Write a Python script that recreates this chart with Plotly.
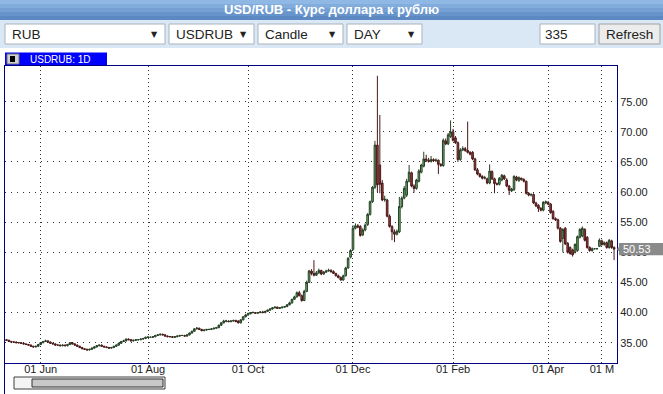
import plotly.graph_objects as go
import pandas as pd

# ---------------- data ----------------
open_ = [
    35.5, 35.4, 35.2, 35.1, 35.1, 35.0, 35.0, 34.9, 34.8, 34.7,
    34.6, 34.4, 34.3, 34.4, 34.7, 35.0, 35.2, 35.3, 35.1, 34.9,
    34.8, 34.6, 34.6, 34.5, 34.6, 34.5, 34.7, 35.0, 34.8, 34.6,
    34.4, 34.2, 34.0, 33.9, 33.8, 33.9, 34.1, 34.3, 34.5, 34.6,
    34.4, 34.3, 34.2, 34.1, 34.2, 34.4, 34.6, 34.9, 35.2, 35.3,
    35.6, 35.5, 35.3, 35.4, 35.5, 35.5, 35.6, 35.7, 35.9, 35.9,
    35.9, 36.0, 36.2, 36.3, 36.4, 36.3, 36.1, 36.0, 36.0, 35.9,
    36.0, 36.1, 36.2, 36.2, 36.1, 36.3, 36.6, 36.9, 37.3, 37.4,
    37.2, 37.0, 37.1, 37.2, 37.2, 37.3, 37.4, 37.5, 37.9, 38.3,
    38.6, 38.6, 38.5, 38.6, 38.7, 38.6, 38.3, 38.8, 39.3, 39.6,
    39.8, 40.0, 40.0, 39.9, 40.0, 40.1, 40.0, 40.2, 40.4, 40.6,
    40.8, 40.9, 40.7, 40.8, 40.9, 41.0, 41.3, 41.6, 42.2, 42.6,
    43.3, 42.8, 42.0, 43.5, 45.0, 46.9, 46.5, 46.2, 46.6, 47.0,
    46.4, 46.7, 46.9, 47.0, 46.8, 46.5, 46.1, 45.8, 45.4, 46.1,
    47.4, 49.2, 50.5, 54.0, 54.4, 54.3, 52.9, 53.7, 54.6, 56.3,
    58.4, 60.8, 67.8, 64.5, 61.5, 58.7, 58.7, 56.0, 54.3, 53.4,
    53.0, 53.4, 57.6, 59.0, 59.5, 61.8, 63.2, 61.0, 60.6, 61.8,
    63.3, 64.3, 65.5, 65.3, 65.1, 65.4, 65.2, 65.3, 64.6, 64.4,
    68.5, 68.0, 69.2, 70.0, 69.0, 68.2, 65.4, 67.0, 67.2, 66.9,
    66.6, 66.6, 65.5, 63.7, 63.0, 62.6, 62.3, 62.2, 61.5, 63.4,
    62.2, 61.4, 61.3, 62.0, 62.7, 62.0, 61.0, 60.2, 60.4, 62.5,
    61.9, 62.3, 62.1, 61.8, 59.8, 59.5, 59.6, 58.2, 57.8, 57.3,
    57.0, 58.2, 58.3, 58.0, 56.8, 55.6, 55.4, 54.0, 52.3, 54.0,
    51.5, 50.8, 50.4, 50.0, 50.3, 52.5, 52.7, 53.8, 52.5, 50.8,
    50.3, 50.6, 50.6, 51.0, 51.9, 51.3, 51.6, 50.8, 51.9, 50.8,
]
high = [
    35.6, 35.5, 35.3, 35.2, 35.2, 35.1, 35.1, 35.0, 34.9, 34.8,
    34.7, 34.5, 34.5, 34.8, 35.1, 35.3, 35.5, 35.4, 35.2, 35.0,
    34.9, 34.7, 34.7, 34.7, 34.7, 34.8, 35.1, 35.1, 34.9, 34.7,
    34.5, 34.3, 34.1, 34.0, 34.0, 34.2, 34.4, 34.6, 34.7, 34.7,
    34.5, 34.4, 34.3, 34.3, 34.5, 34.7, 35.0, 35.3, 35.5, 35.7,
    35.7, 35.6, 35.5, 35.6, 35.6, 35.7, 35.8, 36.0, 36.1, 36.0,
    36.1, 36.3, 36.4, 36.5, 36.5, 36.4, 36.2, 36.1, 36.1, 36.1,
    36.2, 36.3, 36.3, 36.3, 36.4, 36.7, 37.0, 37.4, 37.6, 37.5,
    37.3, 37.2, 37.3, 37.3, 37.4, 37.5, 37.6, 38.0, 38.4, 38.8,
    38.8, 38.7, 38.7, 38.8, 38.8, 38.7, 38.9, 39.4, 39.8, 40.0,
    40.1, 40.2, 40.1, 40.1, 40.2, 40.3, 40.3, 40.5, 40.7, 40.9,
    41.0, 41.0, 40.9, 41.0, 41.1, 41.4, 41.8, 42.3, 42.8, 43.5,
    43.6, 43.0, 43.8, 45.3, 47.1, 47.2, 48.7, 46.9, 47.3, 47.1,
    46.9, 47.1, 47.3, 47.2, 47.0, 46.6, 46.3, 46.0, 46.3, 47.6,
    49.2, 50.5, 54.5, 54.8, 54.7, 54.5, 54.0, 54.8, 56.5, 58.6,
    61.0, 68.5, 79.3, 72.8, 62.0, 59.4, 58.9, 56.3, 54.5, 53.8,
    53.8, 59.2, 59.3, 61.0, 62.2, 64.5, 63.4, 61.3, 62.2, 63.8,
    64.7, 66.7, 66.2, 65.7, 66.0, 65.6, 65.6, 65.4, 64.8, 68.9,
    68.9, 69.8, 71.9, 70.5, 69.3, 68.4, 67.3, 67.6, 67.5, 71.7,
    66.8, 66.8, 65.7, 64.0, 63.2, 62.8, 62.7, 62.4, 64.6, 63.6,
    62.4, 61.6, 62.5, 63.0, 62.9, 62.3, 61.2, 60.7, 62.8, 62.7,
    62.6, 62.4, 62.3, 61.9, 60.0, 59.8, 59.8, 58.4, 58.0, 57.5,
    58.5, 58.6, 58.5, 58.2, 57.0, 55.8, 55.6, 54.2, 54.0, 54.2,
    51.7, 51.0, 50.6, 51.5, 52.8, 54.0, 54.3, 54.0, 52.7, 51.0,
    50.8, 50.7, 50.7, 52.3, 52.1, 51.8, 51.8, 52.2, 52.1, 51.0,
]
low = [
    35.3, 35.1, 35.0, 35.0, 34.9, 34.9, 34.8, 34.7, 34.6, 34.5,
    34.3, 34.2, 34.2, 34.3, 34.6, 34.9, 35.1, 35.0, 34.8, 34.7,
    34.5, 34.5, 34.4, 34.4, 34.4, 34.4, 34.6, 34.7, 34.5, 34.3,
    34.1, 33.9, 33.8, 33.7, 33.7, 33.8, 34.0, 34.2, 34.4, 34.3,
    34.2, 34.1, 34.0, 34.0, 34.1, 34.3, 34.5, 34.8, 35.1, 35.2,
    35.4, 35.2, 35.2, 35.3, 35.4, 35.4, 35.5, 35.6, 35.8, 35.8,
    35.8, 35.9, 36.1, 36.2, 36.2, 36.0, 35.9, 35.9, 35.8, 35.8,
    35.9, 36.0, 36.1, 36.0, 36.0, 36.2, 36.5, 36.8, 37.2, 37.1,
    36.9, 36.9, 37.0, 37.1, 37.1, 37.2, 37.3, 37.4, 37.8, 38.2,
    38.4, 38.4, 38.4, 38.5, 38.4, 38.2, 38.2, 38.7, 39.2, 39.5,
    39.7, 39.9, 39.8, 39.8, 39.9, 39.9, 39.9, 40.1, 40.3, 40.5,
    40.7, 40.6, 40.6, 40.7, 40.8, 40.9, 41.2, 41.5, 42.1, 42.5,
    42.7, 41.8, 41.9, 43.4, 44.9, 46.2, 46.0, 46.1, 46.4, 46.2,
    46.3, 46.6, 46.8, 46.6, 46.4, 46.0, 45.7, 45.3, 45.3, 46.0,
    47.3, 49.0, 50.3, 53.8, 54.0, 52.6, 52.7, 53.5, 54.4, 56.1,
    58.2, 60.5, 60.0, 59.8, 58.5, 58.4, 55.8, 54.1, 52.0, 51.7,
    52.8, 53.2, 57.3, 58.8, 59.2, 61.6, 60.8, 59.9, 60.4, 61.6,
    63.1, 64.1, 65.0, 64.9, 64.9, 65.0, 65.0, 63.0, 64.2, 64.2,
    67.8, 67.8, 69.0, 68.4, 68.0, 65.0, 65.2, 66.8, 66.7, 66.4,
    66.1, 65.3, 63.5, 62.8, 62.4, 62.1, 62.1, 61.3, 61.3, 62.0,
    59.8, 61.1, 61.1, 61.8, 62.0, 60.8, 59.5, 60.0, 60.2, 61.8,
    61.7, 61.9, 61.6, 59.6, 59.3, 59.3, 58.0, 57.5, 56.7, 56.8,
    56.8, 58.0, 57.8, 56.4, 55.4, 55.2, 53.8, 51.6, 50.0, 51.2,
    49.8, 49.6, 49.3, 49.8, 50.1, 52.3, 52.5, 51.8, 50.6, 50.1,
    50.1, 50.5, 50.5, 50.9, 51.1, 51.1, 50.6, 50.6, 50.6, 48.7,
]
close = [
    35.4, 35.2, 35.1, 35.1, 35.0, 35.0, 34.9, 34.8, 34.7, 34.6,
    34.4, 34.3, 34.4, 34.7, 35.0, 35.2, 35.3, 35.1, 34.9, 34.8,
    34.6, 34.6, 34.5, 34.6, 34.5, 34.7, 35.0, 34.8, 34.6, 34.4,
    34.2, 34.0, 33.9, 33.8, 33.9, 34.1, 34.3, 34.5, 34.6, 34.4,
    34.3, 34.2, 34.1, 34.2, 34.4, 34.6, 34.9, 35.2, 35.3, 35.6,
    35.5, 35.3, 35.4, 35.5, 35.5, 35.6, 35.7, 35.9, 35.9, 35.9,
    36.0, 36.2, 36.3, 36.4, 36.3, 36.1, 36.0, 36.0, 35.9, 36.0,
    36.1, 36.2, 36.2, 36.1, 36.3, 36.6, 36.9, 37.3, 37.4, 37.2,
    37.0, 37.1, 37.2, 37.2, 37.3, 37.4, 37.5, 37.9, 38.3, 38.6,
    38.6, 38.5, 38.6, 38.7, 38.5, 38.3, 38.8, 39.3, 39.6, 39.8,
    40.0, 40.0, 39.9, 40.0, 40.1, 40.0, 40.2, 40.4, 40.6, 40.8,
    40.9, 40.7, 40.8, 40.9, 41.0, 41.3, 41.6, 42.2, 42.6, 43.3,
    42.8, 42.0, 43.5, 45.0, 46.9, 46.5, 46.2, 46.6, 47.0, 46.4,
    46.7, 46.9, 47.0, 46.8, 46.5, 46.1, 45.8, 45.4, 46.1, 47.4,
    49.0, 50.3, 54.0, 54.4, 54.2, 52.8, 53.7, 54.5, 56.3, 58.4,
    60.8, 67.8, 61.2, 61.3, 58.7, 58.8, 56.0, 54.3, 53.4, 53.0,
    53.5, 57.6, 59.0, 60.6, 61.8, 63.3, 61.0, 60.6, 62.0, 63.5,
    64.5, 65.5, 65.3, 65.1, 65.4, 65.2, 65.3, 64.6, 64.4, 68.6,
    68.0, 69.5, 70.0, 68.6, 68.2, 65.4, 67.0, 67.2, 66.9, 66.6,
    66.3, 65.5, 63.7, 63.0, 62.6, 62.3, 62.4, 61.5, 63.5, 62.2,
    61.4, 61.3, 62.3, 62.8, 62.2, 61.0, 60.3, 60.5, 62.6, 62.0,
    62.4, 62.1, 61.8, 59.8, 59.5, 59.6, 58.2, 57.7, 57.3, 57.0,
    58.3, 58.4, 58.0, 56.6, 55.6, 55.4, 54.0, 51.8, 53.8, 51.4,
    50.0, 49.8, 49.6, 51.3, 52.6, 53.8, 54.0, 52.0, 50.8, 50.3,
    50.6, 50.6, 50.6, 52.0, 51.3, 51.6, 50.8, 52.0, 50.8, 50.53,
]

start_date = "2014-05-13"
end_date = "2015-05-31"
missing_days = ["2014-08-15", "2014-09-05", "2014-12-31", "2015-01-01",
                "2015-01-02", "2015-01-07", "2015-02-23", "2015-03-06", "2015-03-09"]
tick_months = ["2014-06-01", "2014-08-01", "2014-10-01", "2014-12-01",
               "2015-02-01", "2015-04-01", "2015-05-01"]
tick_labels = ["01 Jun", "01 Aug", "01 Oct", "01 Dec", "01 Feb", "01 Apr", "01 M"]
y_ticks = [35, 40, 45, 50, 55, 60, 65, 70, 75]
last_price = 50.53

# ---------------- dates -> bar positions ----------------
days = pd.bdate_range(start_date, end_date)
days = days[~days.isin(pd.to_datetime(missing_days))][:len(close)]
bar_pos = list(range(len(close)))
tick_pos = [int((days >= pd.Timestamp(m)).argmax()) for m in tick_months]

# ---------------- geometry ----------------
W, H = 663, 394
L, R, T, B = 5, 46, 66, 31
PW, PH = W - L - R, H - T - B


def px(x):
    return (x - L) / PW


def py(y):
    return 1 - (y - T) / PH


fig = go.Figure()
fig.add_trace(go.Candlestick(
    x=bar_pos, open=open_, high=high, low=low, close=close,
    increasing=dict(line=dict(color="#243f24", width=1), fillcolor="#6cb06c"),
    decreasing=dict(line=dict(color="#4a1818", width=1), fillcolor="#9c4040"),
    whiskerwidth=0, hoverinfo="skip", showlegend=False,
))

shapes = []
ann = []

# header bar (banded gradient)
hdr_cols = ["#90b8e4", "#82acdc", "#74a0d4", "#6794ca", "#5c89c2"]
for k, c in enumerate(hdr_cols):
    shapes.append(dict(type="rect", xref="paper", yref="paper", x0=px(0), x1=px(W),
                       y0=py(k * 4), y1=py(k * 4 + 4), fillcolor=c, line=dict(width=0), layer="below"))
ann.append(dict(text="<b>USD/RUB - Курс доллара к рублю</b>", x=px(331), y=py(10),
                xref="paper", yref="paper", showarrow=False, xanchor="center", yanchor="middle",
                font=dict(family="Liberation Sans, Arial", size=13, color="white")))

# toolbar background
shapes.append(dict(type="rect", xref="paper", yref="paper", x0=px(0), x1=px(W),
                   y0=py(20), y1=py(48), fillcolor="#dae7f5", line=dict(width=0), layer="below"))

# dropdown boxes
boxes = [(5, 165, "RUB"), (169, 254, "USDRUB"), (258, 343, "Candle"), (347, 422, "DAY")]
for x0, x1, txt in boxes:
    shapes.append(dict(type="rect", xref="paper", yref="paper", x0=px(x0), x1=px(x1),
                       y0=py(24), y1=py(44), fillcolor="white", line=dict(color="#a9b3bd", width=1),
                       layer="below"))
    ann.append(dict(text=txt, x=px(x0 + 5), y=py(34), xref="paper", yref="paper", showarrow=False,
                    xanchor="left", yanchor="middle",
                    font=dict(family="Liberation Sans, Arial", size=13.5, color="#222222")))
    ann.append(dict(text="▼", x=px(x1 - 11), y=py(34), xref="paper", yref="paper", showarrow=False,
                    xanchor="center", yanchor="middle",
                    font=dict(family="DejaVu Sans", size=8, color="#222222")))

# count box and refresh button
shapes.append(dict(type="rect", xref="paper", yref="paper", x0=px(540), x1=px(595),
                   y0=py(24), y1=py(44), fillcolor="white", line=dict(color="#a9b3bd", width=1), layer="below"))
ann.append(dict(text="335", x=px(543), y=py(34), xref="paper", yref="paper", showarrow=False,
                xanchor="left", yanchor="middle",
                font=dict(family="Liberation Sans, Arial", size=13.5, color="#222222")))
shapes.append(dict(type="rect", xref="paper", yref="paper", x0=px(599), x1=px(660),
                   y0=py(24), y1=py(44), fillcolor="#ececec", line=dict(color="#a0a0a0", width=1), layer="below"))
ann.append(dict(text="Refresh", x=px(629.5), y=py(34), xref="paper", yref="paper", showarrow=False,
                xanchor="center", yanchor="middle",
                font=dict(family="Liberation Sans, Arial", size=13.5, color="#222222")))

# chart tab
shapes.append(dict(type="rect", xref="paper", yref="paper", x0=px(5), x1=px(107),
                   y0=py(52.5), y1=py(66), fillcolor="#0000ff", line=dict(width=0), layer="below"))
shapes.append(dict(type="rect", xref="paper", yref="paper", x0=px(7), x1=px(19),
                   y0=py(54), y1=py(64), fillcolor="#d0d0d0", line=dict(color="#707070", width=1), layer="below"))
shapes.append(dict(type="rect", xref="paper", yref="paper", x0=px(10), x1=px(15),
                   y0=py(56), y1=py(62), fillcolor="#000000", line=dict(width=0), layer="below"))
ann.append(dict(text="USDRUB: 1D", x=px(28), y=py(59.5), xref="paper", yref="paper", showarrow=False,
                xanchor="left", yanchor="middle",
                font=dict(family="Liberation Sans, Arial", size=10, color="white")))

# panel left line and scrollbar
shapes.append(dict(type="line", xref="paper", yref="paper", x0=px(4.5), x1=px(4.5),
                   y0=py(363), y1=py(394), line=dict(color="#000080", width=1)))
shapes.append(dict(type="rect", xref="paper", yref="paper", x0=px(14), x1=px(165),
                   y0=py(377), y1=py(389), fillcolor="#f4f4f4", line=dict(color="#404040", width=1)))
shapes.append(dict(type="rect", xref="paper", yref="paper", x0=px(32), x1=px(163),
                   y0=py(379), y1=py(387), fillcolor="#c8c8c8", line=dict(color="#303030", width=1)))

# last price marker
shapes.append(dict(type="rect", xref="paper", yref="y", x0=px(619), x1=px(663),
                   y0=last_price - 1.0, y1=last_price + 1.0, fillcolor="#8a8a8a",
                   line=dict(width=0), layer="above"))
shapes.append(dict(type="path", xref="paper", yref="y",
                   path=f"M {px(617)},{last_price} L {px(620)},{last_price + 0.6} L {px(620)},{last_price - 0.6} Z",
                   fillcolor="#8a8a8a", line=dict(width=0), layer="above"))
ann.append(dict(text=f"{last_price:.2f}", x=px(621), y=last_price, xref="paper", yref="y",
                showarrow=False, xanchor="left", yanchor="middle",
                font=dict(family="Liberation Sans, Arial", size=11, color="white")))

fig.update_layout(
    width=W, height=H, autosize=False,
    margin=dict(l=L, r=R, t=T, b=B, pad=0),
    paper_bgcolor="white", plot_bgcolor="white",
    shapes=shapes, annotations=ann, showlegend=False,
    boxgap=0.05,
    xaxis=dict(
        range=[-0.615, 250.2], rangeslider=dict(visible=False),
        tickmode="array", tickvals=tick_pos, ticktext=tick_labels,
        showgrid=True, gridcolor="#333333", gridwidth=1, griddash="1px,3px",
        showline=True, linecolor="#000080", linewidth=1, mirror=True,
        ticks="", zeroline=False, ticklabelstandoff=-4,
        tickfont=dict(family="Liberation Sans, Arial", size=11, color="#222222"),
    ),
    yaxis=dict(
        range=[31.63, 80.93], side="right",
        tickmode="array", tickvals=y_ticks, ticktext=[f"{v:.2f}" for v in y_ticks],
        showgrid=True, gridcolor="#333333", gridwidth=1, griddash="1px,5px",
        showline=True, linecolor="#000080", linewidth=1, mirror=True,
        ticks="", zeroline=False,
        tickfont=dict(family="Liberation Sans, Arial", size=11, color="#222222"),
    ),
)

fig.write_html("out.html")
